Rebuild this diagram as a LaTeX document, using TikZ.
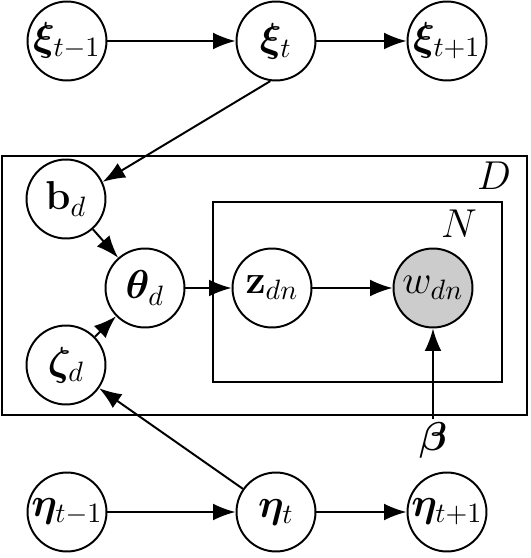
\documentclass[tikz,border=0pt]{standalone}
\usepackage{amsmath,bm}
\usetikzlibrary{arrows.meta}
\begin{document}
\begin{tikzpicture}[x=0.3571pt,y=-0.3571pt,
  latent/.style={circle,draw,line width=0.7pt,minimum size=28.2pt,inner sep=0pt,font=\Large},
  obs/.style={latent,fill=black!20},
  plate/.style={draw,line width=0.7pt},
  edge/.style={-{Latex[length=8pt,width=6pt]},line width=0.7pt}]
\useasboundingbox (0,0) rectangle (530,558);
% plates
\draw[plate] (2,156) rectangle (527,415);
\draw[plate] (213,202) rectangle (502,382);
\node[font=\Large] (labD) at (494,176) {$D$};
\node[font=\Large] (labN) at (459,224) {$N$};
% nodes
\node[latent] (xim) at (67,41) {$\bm{\xi}_{t-1}$};
\node[latent] (xi) at (276,41) {$\bm{\xi}_{t}$};
\node[latent] (xip) at (447,41) {$\bm{\xi}_{t+1}$};
\node[latent] (b) at (66,199) {$\mathbf{b}_d$};
\node[latent] (theta) at (145,288) {$\bm{\theta}_d$};
\node[latent] (zeta) at (66,365) {$\bm{\zeta}_d$};
\node[latent] (z) at (272,288) {$\mathbf{z}_{dn}$};
\node[obs] (w) at (433,288) {$w_{dn}$};
\node[font=\Large,inner sep=1pt] (beta) at (433,440) {$\bm{\beta}$};
\node[latent] (etam) at (67,512) {$\bm{\eta}_{t-1}$};
\node[latent] (eta) at (276,512) {$\bm{\eta}_{t}$};
\node[latent] (etap) at (447,512) {$\bm{\eta}_{t+1}$};
% edges
\draw[edge] (xim) -- (xi);
\draw[edge] (xi) -- (xip);
\draw[edge] (xi.-98) -- (b.25);
\draw[edge] (b) -- (theta);
\draw[edge] (zeta) -- (theta);
\draw[edge] (theta) -- (z);
\draw[edge] (z) -- (w);
\draw[edge] (beta) -- (w);
\draw[edge] (etam) -- (eta);
\draw[edge] (eta) -- (etap);
\draw[edge] (eta) -- (zeta);
\end{tikzpicture}
\end{document}
